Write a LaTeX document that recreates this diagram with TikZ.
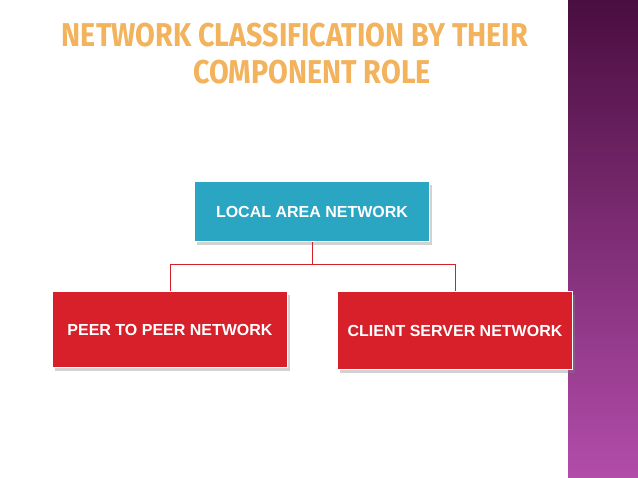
\documentclass[tikz,border=0pt]{standalone}
\usepackage{fontspec}
\setmainfont{Liberation Sans}
\newfontfamily\titlefont{Fira Sans}
\usetikzlibrary{shadows}
\definecolor{lancyan}{HTML}{2AA6C3}
\definecolor{boxred}{HTML}{D7202A}
\definecolor{titleorange}{HTML}{F2B35C}
\definecolor{bartop}{HTML}{4A0E40}
\definecolor{barbot}{HTML}{B24DAA}
\tikzset{
  box/.style={draw=white, line width=1pt, minimum width=235pt, text=white,
    font=\bfseries\fontsize{16}{18}\selectfont, drop shadow={opacity=0.35}},
  heading/.style={font=\titlefont\bfseries\fontsize{33}{36}\selectfont, text=titleorange, xscale=0.87},
  link/.style={draw=boxred, line width=1pt}
}
\begin{document}
\begin{tikzpicture}[x=1pt,y=-1pt]
	\useasboundingbox (0,0) rectangle (638,478);
	\fill[white] (0,0) rectangle (638,478);
	\shade[top color=bartop, bottom color=barbot] (568,0) rectangle (638,478);
	\node[heading] (title1) at (295,35) {NETWORK CLASSIFICATION BY THEIR};
	\node[heading] (title2) at (312,72) {COMPONENT ROLE};
	\node[box, fill=lancyan, minimum height=60pt] (LAN) at (312,212) {LOCAL AREA NETWORK};
	\node[box, fill=boxred, minimum height=76pt] (P2P) at (170,330) {PEER TO PEER NETWORK};
	\node[box, fill=boxred, minimum height=78pt] (CS) at (455,331) {CLIENT SERVER NETWORK};
	\coordinate (J) at (312,265);
	\path[link] (LAN.south) -- (J);
	\path[link] (J) -| (P2P.north);
	\path[link] (J) -| (CS.north);
\end{tikzpicture}
\end{document}
